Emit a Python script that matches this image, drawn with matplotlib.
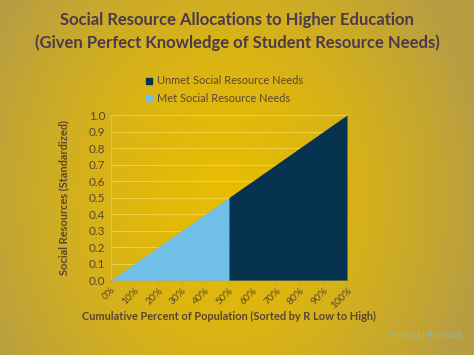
import numpy as np
import matplotlib
matplotlib.use("Agg")
from matplotlib import pyplot as plt
from matplotlib.patches import Rectangle

plt.rcParams['font.family'] = ['Lato', 'DejaVu Sans']

pct = [0, 10, 20, 30, 40, 50, 60, 70, 80, 90, 100]
tick_labels = ["0%", "10%", "20%", "30%", "40%", "50%", "60%", "70%", "80%", "90%", "100%"]
met = [0.0, 0.1, 0.2, 0.3, 0.4, 0.5]
unmet = [0.5, 0.6, 0.7, 0.8, 0.9, 1.0]
yticks = [0.0, 0.1, 0.2, 0.3, 0.4, 0.5, 0.6, 0.7, 0.8, 0.9, 1.0]

met_color = "#6fbfe6"
unmet_color = "#06334f"
text_color = "#5a4630"
title_color = "#4a3a4c"

fig = plt.figure(figsize=(4.74, 3.55), dpi=100)

# background gradient
bg = fig.add_axes([0, 0, 1, 1])
gx, gy = np.meshgrid(np.linspace(0, 1, 300), np.linspace(0, 1, 240))
r = np.sqrt(((gx - 0.47) / 0.55) ** 2 + ((gy - 0.45) / 0.9) ** 2)
t = np.clip(r, 0, 1) ** 1.6
center = np.array([230, 188, 4]) / 255
edge = np.array([184, 158, 66]) / 255
img = center[None, None, :] * (1 - t[..., None]) + edge[None, None, :] * t[..., None]
bg.imshow(img, extent=[0, 1, 0, 1], aspect="auto", origin="lower")
bg.set_axis_off()

ax = fig.add_axes([0.234, 0.211, 0.498, 0.465])
ax.patch.set_alpha(0)
ax.fill_between(pct[:6], 0, met, color=met_color, linewidth=0, zorder=3)
ax.fill_between(pct[5:], 0, unmet, color=unmet_color, linewidth=0, zorder=3)
ax.set_xlim(0, 100)
ax.set_ylim(0, 1.0)
ax.set_yticks(yticks)
ax.set_yticklabels([f"{v:.1f}" for v in yticks], fontsize=8.5, color=text_color)
ax.set_xticks(pct)
ax.set_xticklabels(tick_labels, fontsize=7.3, color=text_color, rotation=45,
                   ha="right", va="top", rotation_mode="anchor")
ax.tick_params(axis="y", length=0, pad=4)
ax.tick_params(axis="x", length=3, color="#c9a830", pad=1)
ax.grid(axis="y", color="#f0cf3c", linewidth=0.8, zorder=0)
for s in ["top", "right"]:
    ax.spines[s].set_visible(False)
ax.spines["left"].set_color("#d8c070")
ax.spines["bottom"].set_color("#c9a830")
ax.spines["left"].set_linewidth(0.8)
ax.spines["bottom"].set_linewidth(0.8)

ax.set_ylabel("Social Resources (Standardized)", fontsize=7.9, fontweight="bold",
              color=text_color, labelpad=14)
ax.set_xlabel("Cumulative Percent of Population (Sorted by R Low to High)",
              fontsize=7.9, fontweight="bold", color=text_color, labelpad=0.5)

fig.text(0.5, 0.943, "Social Resource Allocations to Higher Education",
         ha="center", va="center", fontsize=12, fontweight="bold", color=title_color)
fig.text(0.5, 0.88, "(Given Perfect Knowledge of Student Resource Needs)",
         ha="center", va="center", fontsize=12, fontweight="bold", color=title_color)

# legend
fig.patches.append(Rectangle((146 / 474, 1 - 84 / 355), 6 / 474, 6 / 355,
                             transform=fig.transFigure, color=unmet_color))
fig.text(157 / 474, 1 - 81 / 355, "Unmet Social Resource Needs", fontsize=7.9,
         color=text_color, va="center", ha="left")
fig.patches.append(Rectangle((146 / 474, 1 - 101 / 355), 6 / 474, 6 / 355,
                             transform=fig.transFigure, color=met_color))
fig.text(157 / 474, 1 - 98 / 355, "Met Social Resource Needs", fontsize=7.9,
         color=text_color, va="center", ha="left")

fig.text(0.975, 1 - 336 / 355, "Historia | Research", fontsize=6.3, color="#86b9c8",
         ha="right", va="center")

fig.savefig("out.png", dpi=100)
